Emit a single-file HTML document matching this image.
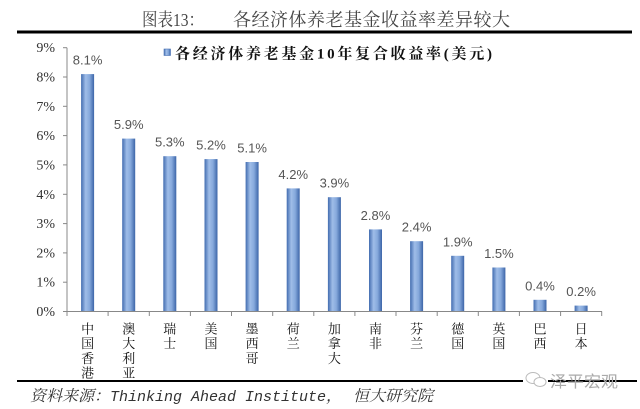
<!DOCTYPE html>
<html>
<head>
<meta charset="utf-8">
<style>
  html, body { margin:0; padding:0; background:#fff; }
  body { width:640px; height:409px; overflow:hidden; }
  svg { display:block; }
</style>
</head>
<body>
<svg width="640" height="409" viewBox="0 0 640 409" xmlns="http://www.w3.org/2000/svg">
  <defs>
    <linearGradient id="bar" x1="0" y1="0" x2="1" y2="0">
      <stop offset="0" stop-color="#426cb0"/>
      <stop offset="0.35" stop-color="#9fbde8"/>
      <stop offset="0.65" stop-color="#86a9dc"/>
      <stop offset="1" stop-color="#3c65a8"/>
    </linearGradient>
  </defs>
  <rect width="640" height="409" fill="#fff"/>

  <!-- Title -->
  <text x="142" y="26" font-family="'Liberation Serif','Noto Serif CJK SC',serif" font-size="18" fill="#444" textLength="62" lengthAdjust="spacingAndGlyphs">图表13：</text>
  <text x="233" y="26" font-family="'Liberation Serif','Noto Serif CJK SC',serif" font-size="18" fill="#444" textLength="277" lengthAdjust="spacing">各经济体养老基金收益率差异较大</text>
  <rect x="17" y="30.5" width="615" height="3" fill="#000"/>

  <!-- Legend -->
  <rect x="164" y="49" width="6.5" height="6.5" fill="url(#bar)" stroke="#4a72b4" stroke-width="0.6"/>
  <text x="175" y="58.5" font-family="'Liberation Serif','Noto Serif CJK SC',serif" font-size="15" font-weight="bold" fill="#111" textLength="317" lengthAdjust="spacing">各经济体养老基金10年复合收益率(美元)</text>

  <!-- Y axis -->
  <g stroke="#888" stroke-width="1" fill="none">
    <line x1="67" y1="47.7" x2="67" y2="311.5"/>
    <line x1="63" y1="47.7" x2="67" y2="47.7"/>
    <line x1="63" y1="77" x2="67" y2="77"/>
    <line x1="63" y1="106.3" x2="67" y2="106.3"/>
    <line x1="63" y1="135.6" x2="67" y2="135.6"/>
    <line x1="63" y1="164.9" x2="67" y2="164.9"/>
    <line x1="63" y1="194.3" x2="67" y2="194.3"/>
    <line x1="63" y1="223.6" x2="67" y2="223.6"/>
    <line x1="63" y1="252.9" x2="67" y2="252.9"/>
    <line x1="63" y1="282.2" x2="67" y2="282.2"/>
    <line x1="63" y1="311.5" x2="67" y2="311.5"/>
  </g>
  <g font-family="'Liberation Serif',serif" font-size="14" fill="#333" text-anchor="end">
    <text x="55" y="52.2">9%</text>
    <text x="55" y="81.5">8%</text>
    <text x="55" y="110.8">7%</text>
    <text x="55" y="140.1">6%</text>
    <text x="55" y="169.4">5%</text>
    <text x="55" y="198.8">4%</text>
    <text x="55" y="228.1">3%</text>
    <text x="55" y="257.4">2%</text>
    <text x="55" y="286.7">1%</text>
    <text x="55" y="316">0%</text>
  </g>

  <!-- Bars -->
  <g fill="url(#bar)">
    <rect x="81.1" y="74.1" width="13" height="237.4"/>
    <rect x="122.2" y="138.6" width="13" height="172.9"/>
    <rect x="163.3" y="156.2" width="13" height="155.3"/>
    <rect x="204.5" y="159.1" width="13" height="152.4"/>
    <rect x="245.6" y="162" width="13" height="149.5"/>
    <rect x="286.7" y="188.4" width="13" height="123.1"/>
    <rect x="327.9" y="197.2" width="13" height="114.3"/>
    <rect x="369" y="229.4" width="13" height="82.1"/>
    <rect x="410.1" y="241.2" width="13" height="70.3"/>
    <rect x="451.2" y="255.8" width="13" height="55.7"/>
    <rect x="492.4" y="267.5" width="13" height="44"/>
    <rect x="533.5" y="299.8" width="13" height="11.7"/>
    <rect x="574.6" y="305.6" width="13" height="5.9"/>
  </g>

  <!-- X axis -->
  <g stroke="#888" stroke-width="1">
    <line x1="67" y1="311.5" x2="602" y2="311.5"/>
    <line x1="67" y1="311.5" x2="67" y2="316"/>
    <line x1="108.1" y1="311.5" x2="108.1" y2="316"/>
    <line x1="149.3" y1="311.5" x2="149.3" y2="316"/>
    <line x1="190.4" y1="311.5" x2="190.4" y2="316"/>
    <line x1="231.5" y1="311.5" x2="231.5" y2="316"/>
    <line x1="272.7" y1="311.5" x2="272.7" y2="316"/>
    <line x1="313.8" y1="311.5" x2="313.8" y2="316"/>
    <line x1="354.9" y1="311.5" x2="354.9" y2="316"/>
    <line x1="396" y1="311.5" x2="396" y2="316"/>
    <line x1="437.2" y1="311.5" x2="437.2" y2="316"/>
    <line x1="478.3" y1="311.5" x2="478.3" y2="316"/>
    <line x1="519.4" y1="311.5" x2="519.4" y2="316"/>
    <line x1="560.6" y1="311.5" x2="560.6" y2="316"/>
    <line x1="601.7" y1="311.5" x2="601.7" y2="316"/>
  </g>

  <!-- Data labels -->
  <g font-family="'Liberation Sans',sans-serif" font-size="13" fill="#555" text-anchor="middle">
    <text x="87.6" y="64.6">8.1%</text>
    <text x="128.7" y="129.1">5.9%</text>
    <text x="169.8" y="146.7">5.3%</text>
    <text x="211" y="149.6">5.2%</text>
    <text x="252.1" y="152.5">5.1%</text>
    <text x="293.2" y="178.9">4.2%</text>
    <text x="334.4" y="187.7">3.9%</text>
    <text x="375.5" y="219.9">2.8%</text>
    <text x="416.6" y="231.7">2.4%</text>
    <text x="457.7" y="246.3">1.9%</text>
    <text x="498.9" y="258">1.5%</text>
    <text x="540" y="290.3">0.4%</text>
    <text x="581.1" y="296.1">0.2%</text>
  </g>

  <!-- Category labels (vertical) -->
  <g font-family="'Noto Serif CJK SC','Noto Sans CJK SC',serif" font-size="13" fill="#111" text-anchor="middle">
    <text><tspan x="87.6" y="333.5">中</tspan><tspan x="87.6" y="348.2">国</tspan><tspan x="87.6" y="362.9">香</tspan><tspan x="87.6" y="377.6">港</tspan></text>
    <text><tspan x="128.7" y="333.5">澳</tspan><tspan x="128.7" y="348.2">大</tspan><tspan x="128.7" y="362.9">利</tspan><tspan x="128.7" y="377.6">亚</tspan></text>
    <text><tspan x="169.8" y="333.5">瑞</tspan><tspan x="169.8" y="348.2">士</tspan></text>
    <text><tspan x="211" y="333.5">美</tspan><tspan x="211" y="348.2">国</tspan></text>
    <text><tspan x="252.1" y="333.5">墨</tspan><tspan x="252.1" y="348.2">西</tspan><tspan x="252.1" y="362.9">哥</tspan></text>
    <text><tspan x="293.2" y="333.5">荷</tspan><tspan x="293.2" y="348.2">兰</tspan></text>
    <text><tspan x="334.4" y="333.5">加</tspan><tspan x="334.4" y="348.2">拿</tspan><tspan x="334.4" y="362.9">大</tspan></text>
    <text><tspan x="375.5" y="333.5">南</tspan><tspan x="375.5" y="348.2">非</tspan></text>
    <text><tspan x="416.6" y="333.5">芬</tspan><tspan x="416.6" y="348.2">兰</tspan></text>
    <text><tspan x="457.7" y="333.5">德</tspan><tspan x="457.7" y="348.2">国</tspan></text>
    <text><tspan x="498.9" y="333.5">英</tspan><tspan x="498.9" y="348.2">国</tspan></text>
    <text><tspan x="540" y="333.5">巴</tspan><tspan x="540" y="348.2">西</tspan></text>
    <text><tspan x="581.1" y="333.5">日</tspan><tspan x="581.1" y="348.2">本</tspan></text>
  </g>

  <!-- Bottom rule -->
  <rect x="17" y="380" width="620" height="2" fill="#000"/>

  <!-- Watermark -->
  <rect x="523" y="371" width="25" height="18" fill="#fff"/>
  <ellipse cx="533" cy="378" rx="7" ry="5.5" fill="none" stroke="#bbb" stroke-width="1"/>
  <ellipse cx="540" cy="382" rx="6" ry="4.5" fill="#fff" stroke="#bbb" stroke-width="1"/>
  <text x="550" y="387" font-family="'Noto Sans CJK SC',sans-serif" font-size="16" fill="#aaa" textLength="68" lengthAdjust="spacingAndGlyphs">泽平宏观</text>

  <!-- Source -->
  <g fill="#333" font-style="italic">
    <text x="30" y="401" font-family="'Liberation Serif','Noto Serif CJK SC',serif" font-size="15.5" textLength="80" lengthAdjust="spacingAndGlyphs">资料来源：</text>
    <text x="110" y="401" font-family="'Liberation Mono',monospace" font-size="15" textLength="216" lengthAdjust="spacingAndGlyphs">Thinking Ahead Institute</text>
    <text x="326" y="401" font-family="'Liberation Serif','Noto Serif CJK SC',serif" font-size="15.5">，</text>
    <text x="353" y="401" font-family="'Liberation Serif','Noto Serif CJK SC',serif" font-size="15.5" textLength="80" lengthAdjust="spacingAndGlyphs">恒大研究院</text>
  </g>
</svg>
</body>
</html>
